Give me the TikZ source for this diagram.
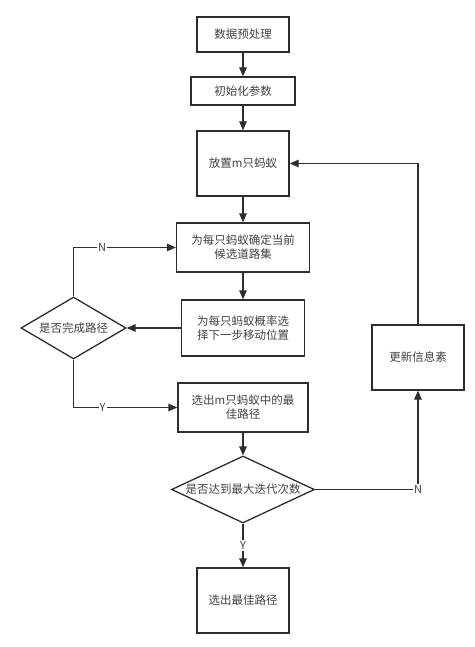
\documentclass[tikz,border=0pt]{standalone}
\usepackage{fontspec}
\setmainfont{Noto Sans CJK SC}
\usetikzlibrary{arrows.meta,shapes.geometric}
\definecolor{linegray}{RGB}{45, 45, 45}
\definecolor{textgray}{RGB}{65, 65, 65}
\tikzset{
  procbox/.style={draw=linegray, line width=1.3pt, rectangle, align=center,
    text=textgray, font=\fontsize{11.5}{14}\selectfont, inner sep=0pt},
  decision/.style={draw=linegray, line width=1.3pt, diamond, inner sep=0pt,
    text=textgray, font=\fontsize{11.5}{14}\selectfont},
  flow/.style={draw=linegray, line width=1.3pt, -{Triangle[length=9pt, width=7.5pt]}},
  yn/.style={fill=white, text=textgray, inner sep=1pt, font=\fontsize{11}{13}\selectfont}
}

\begin{document}
\begin{tikzpicture}[x=1pt, y=-1pt]
    \useasboundingbox (0, 0) rectangle (474, 647);
    % main column
    \node[procbox, minimum width=92pt, minimum height=35pt] (prep) at (243, 34.5) {数据预处理};
    \node[procbox, minimum width=104pt, minimum height=28pt] (init) at (243, 91) {初始化参数};
    \node[procbox, minimum width=92pt, minimum height=65pt] (place) at (243, 163.5) {放置m只蚂蚁};
    \node[procbox, minimum width=133pt, minimum height=49pt] (cand) at (243, 247.5) {为每只蚂蚁确定当前\\候选道路集};
    \node[procbox, minimum width=123pt, minimum height=56pt] (move) at (243, 328) {为每只蚂蚁概率选\\择下一步移动位置};
    \node[procbox, minimum width=130pt, minimum height=49pt] (best) at (243, 407.5) {选出m只蚂蚁中的最\\佳路径};
    \node[decision, minimum width=143pt, minimum height=67pt] (maxit) at (243, 489.5) {\makebox[0pt]{是否达到最大迭代次数}};
    \node[procbox, minimum width=92pt, minimum height=65pt] (final) at (243, 600.5) {选出最佳路径};
    % side nodes
    \node[decision, minimum width=105pt, minimum height=62pt] (done) at (73.5, 328) {\makebox[0pt]{是否完成路径}};
    \node[procbox, minimum width=92pt, minimum height=65pt] (phero) at (418, 357.5) {更新信息素};

    \draw[flow] (prep) -- (init);
    \draw[flow] (init) -- (place);
    \draw[flow] (place) -- (cand);
    \draw[flow] (cand) -- (move);
    \draw[flow] (move) -- (done);
    \draw[flow] (done.north) |- node[yn, pos=0.64] {N} (cand.west);
    \draw[flow] (done.south) |- node[yn, pos=0.64] {Y} (best.west);
    \draw[flow] (best.south) -- (maxit.north);
    \draw[flow] (maxit.south) -- node[yn, pos=0.5] {Y} (final.north);
    \draw[flow] (maxit.east) -| node[yn, pos=0.5] {N} (phero.south);
    \draw[flow] (phero.north) |- (place.east);
\end{tikzpicture}
\end{document}
